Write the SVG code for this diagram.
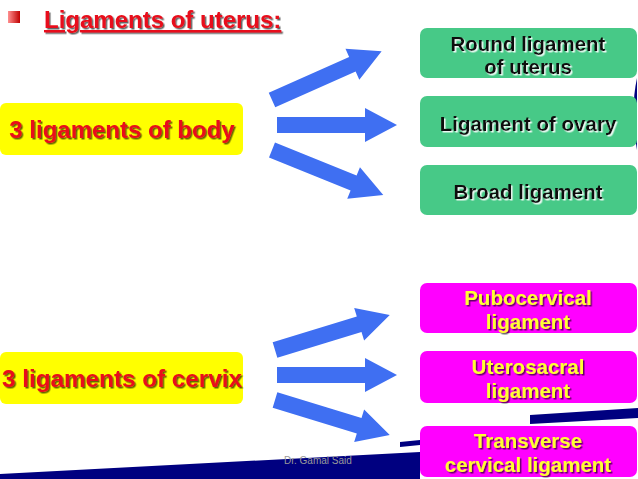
<svg xmlns="http://www.w3.org/2000/svg" xmlns:xlink="http://www.w3.org/1999/xlink" width="638" height="479" viewBox="0 0 638 479">
<style>
.t{font-family:"Liberation Sans",Arial,sans-serif;font-weight:bold;}
.g{fill:#47c987;}
.m{fill:#ff00ff;}
.y{fill:#ffff00;}
.bt{font-size:20.5px;fill:#111;text-anchor:middle;}
.mt{font-size:20.5px;fill:#ffff33;text-anchor:middle;}
.lt{font-size:24px;fill:#e8101a;text-anchor:middle;}
.a{fill:#3f6ff2;}
</style>
<defs>
<polygon id="arr" class="a" points="0,-8 88,-8 88,-17 120,0 88,17 88,8 0,8"/>
<filter id="sh"><feDropShadow dx="1.5" dy="1.5" stdDeviation="0.3" flood-color="#000" flood-opacity="0.6"/></filter>
<filter id="sw"><feDropShadow dx="1.5" dy="1.5" stdDeviation="0.3" flood-color="#fff" flood-opacity="0.9"/></filter>
<linearGradient id="bul" x1="0" x2="1"><stop offset="0" stop-color="#ff9090"/><stop offset="1" stop-color="#c00000"/></linearGradient>
</defs>
<g id="decor">
<polygon points="0,479 0,474 420,452 420,479" fill="#000080"/>
<polygon points="400,442 420,440 420,445 400,447" fill="#000080"/>
<polygon points="530,415 638,408 638,418 530,424" fill="#000080"/>
<path d="M637,78 Q630,110 637,150 Z" fill="#000080"/>
</g>
<g id="title">
<rect x="8" y="11" width="12" height="12" fill="url(#bul)"/>
<text class="t" x="44" y="28" font-size="24" fill="#e8101a" text-decoration="underline" filter="url(#sh)">Ligaments of uterus:</text>
</g>
<g id="connectors">
<use xlink:href="#arr" transform="translate(272,100) rotate(-24)"/>
<use xlink:href="#arr" transform="translate(277,125)"/>
<use xlink:href="#arr" transform="translate(272,150) rotate(22)"/>
<use xlink:href="#arr" transform="translate(275,350) rotate(-17)"/>
<use xlink:href="#arr" transform="translate(277,375)"/>
<use xlink:href="#arr" transform="translate(275,400) rotate(17)"/>
</g>
<g id="body"><rect class="y" x="0" y="103" width="243" height="52" rx="6"/><text class="t lt" x="122" y="138" filter="url(#sh)">3 ligaments of body</text></g>
<g id="cervix"><rect class="y" x="0" y="352" width="243" height="52" rx="6"/><text class="t lt" x="122" y="387" textLength="240" lengthAdjust="spacingAndGlyphs" filter="url(#sh)">3 ligaments of cervix</text></g>
<g id="round"><rect class="g" x="420" y="28" width="217" height="50" rx="7"/><text class="t bt" x="528" y="51" filter="url(#sw)">Round ligament</text><text class="t bt" x="528" y="74" filter="url(#sw)">of uterus</text></g>
<g id="ovary"><rect class="g" x="420" y="96" width="217" height="51" rx="7"/><text class="t bt" x="528" y="131" filter="url(#sw)">Ligament of ovary</text></g>
<g id="broad"><rect class="g" x="420" y="165" width="217" height="50" rx="7"/><text class="t bt" x="528" y="199" filter="url(#sw)">Broad ligament</text></g>
<g id="pubo"><rect class="m" x="420" y="283" width="217" height="50" rx="7"/><text class="t mt" x="528" y="305" filter="url(#sh)">Pubocervical</text><text class="t mt" x="528" y="329" filter="url(#sh)">ligament</text></g>
<g id="utero"><rect class="m" x="420" y="351" width="217" height="52" rx="7"/><text class="t mt" x="528" y="374" filter="url(#sh)">Uterosacral</text><text class="t mt" x="528" y="398" filter="url(#sh)">ligament</text></g>
<g id="trans"><rect class="m" x="420" y="426" width="217" height="51" rx="7"/><text class="t mt" x="528" y="448" filter="url(#sh)">Transverse</text><text class="t mt" x="528" y="472" filter="url(#sh)">cervical ligament</text></g>
<text x="284" y="464" font-family="Liberation Sans,Arial,sans-serif" font-size="10" fill="#999">Dr. Gamal Said</text>
</svg>
